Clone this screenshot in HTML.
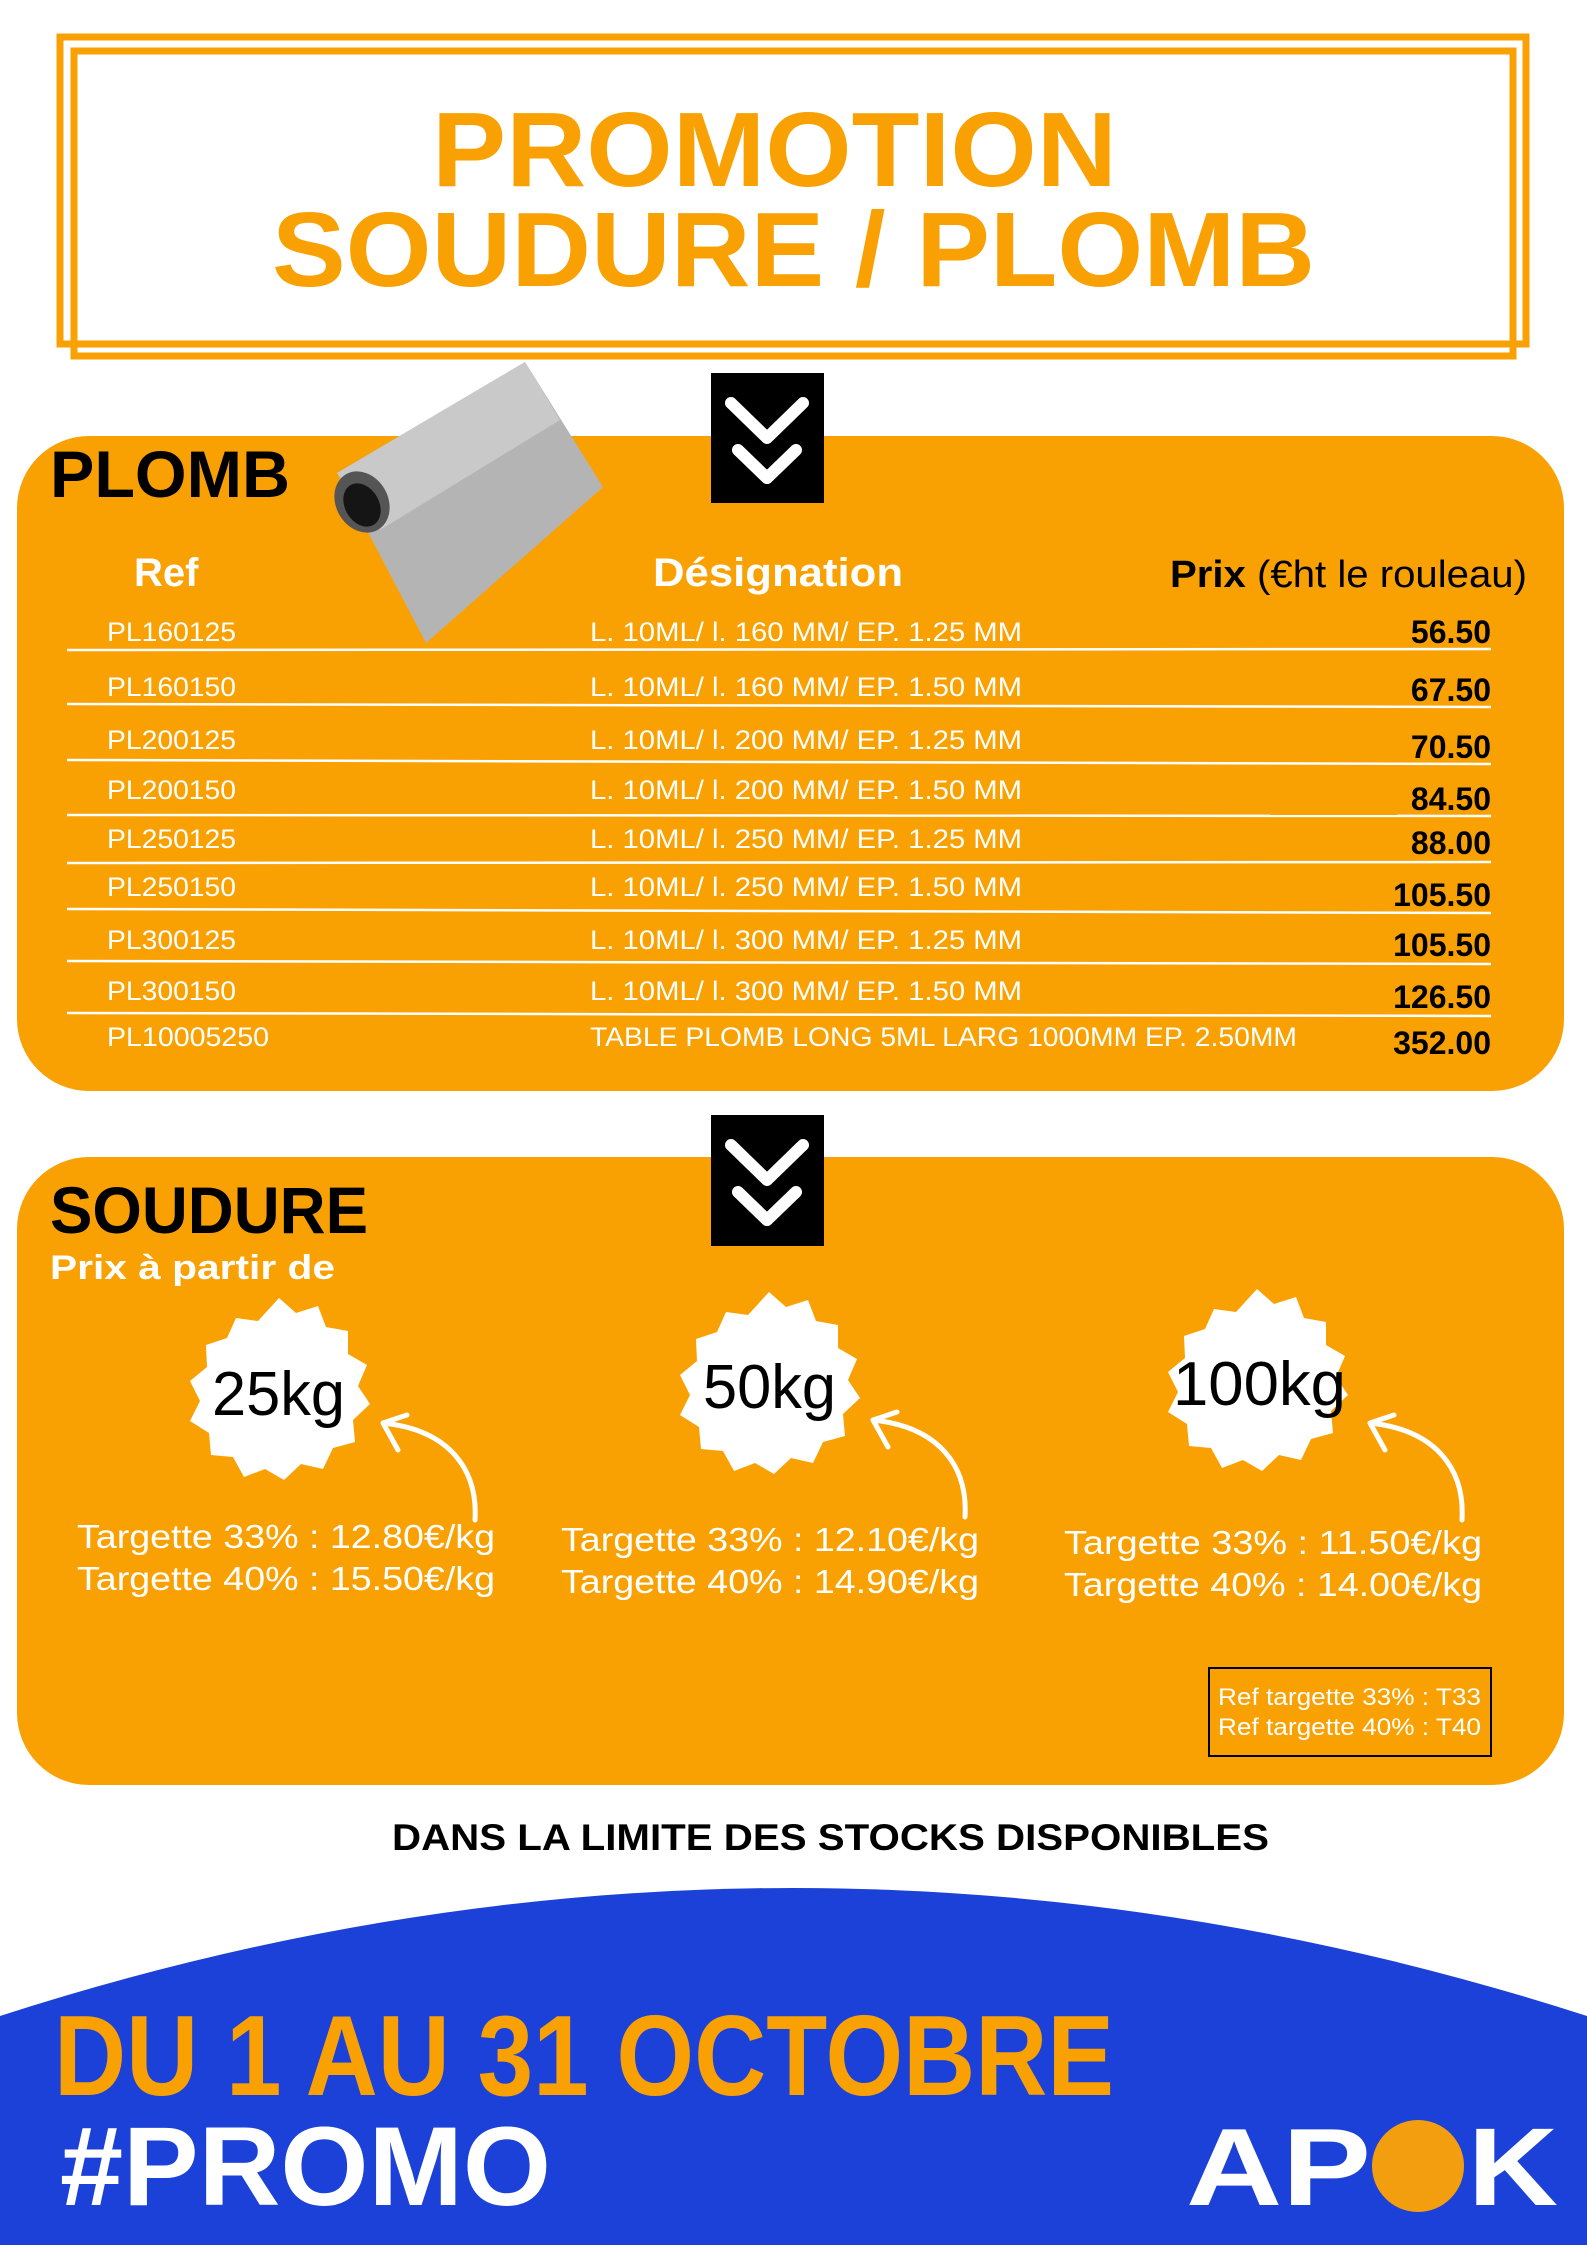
<!DOCTYPE html>
<html><head><meta charset="utf-8"><style>html,body{margin:0;padding:0;background:#fff}svg{display:block}</style></head>
<body>
<svg width="1587" height="2245" viewBox="0 0 1587 2245" xmlns="http://www.w3.org/2000/svg" font-family="Liberation Sans, sans-serif">
<rect width="1587" height="2245" fill="#fff"/>
<!-- title frames -->
<rect x="60" y="37" width="1466" height="307" fill="none" stroke="#f9a102" stroke-width="7"/>
<rect x="74" y="51" width="1439" height="305" fill="none" stroke="#f9a102" stroke-width="7"/>
<text x="432" y="186" font-size="106" font-weight="bold" fill="#f9a102" textLength="685" lengthAdjust="spacingAndGlyphs">PROMOTION</text>
<text x="272" y="286" font-size="106" font-weight="bold" fill="#f9a102" textLength="1043" lengthAdjust="spacingAndGlyphs">SOUDURE / PLOMB</text>

<!-- PLOMB panel -->
<rect x="17" y="436" width="1547" height="655" rx="72" fill="#f9a102"/>
<text x="50" y="497" font-size="66" font-weight="bold" fill="#000" textLength="240" lengthAdjust="spacingAndGlyphs">PLOMB</text>
<!-- roll -->
<polygon points="337,473 525,362 603,487 426,643" fill="#b4b4b4"/>
<polygon points="337,473 525,362 560,420 380,530" fill="#c9c9c9"/>
<ellipse cx="362" cy="502" rx="26" ry="32" fill="#555" transform="rotate(-30 362 502)"/>
<ellipse cx="362" cy="505" rx="17" ry="23" fill="#151515" transform="rotate(-30 362 505)"/>
<!-- chevron -->
<rect x="711" y="373" width="113" height="130" fill="#000"/>
<polyline points="731,403 767,438 803,403" fill="none" stroke="#fff" stroke-width="12" stroke-linecap="round" stroke-linejoin="round"/>
<polyline points="738,450 767,478 796,450" fill="none" stroke="#fff" stroke-width="12" stroke-linecap="round" stroke-linejoin="round"/>

<g font-size="40" font-weight="bold">
<text x="134" y="586" fill="#fff">Ref</text>
<text x="653" y="586" fill="#fff" textLength="250" lengthAdjust="spacingAndGlyphs">Désignation</text>
<text x="1170" y="587" fill="#000" font-size="38" textLength="357" lengthAdjust="spacingAndGlyphs">Prix <tspan font-weight="normal">(€ht le rouleau)</tspan></text>
</g>
<g stroke="#fff" stroke-width="2.5">
<line x1="67" y1="650" x2="1491" y2="649"/>
<line x1="67" y1="704" x2="1491" y2="707"/>
<line x1="67" y1="760" x2="1491" y2="764"/>
<line x1="67" y1="815" x2="1491" y2="816"/>
<line x1="67" y1="863" x2="1491" y2="862"/>
<line x1="67" y1="909" x2="1491" y2="913"/>
<line x1="67" y1="961" x2="1491" y2="964"/>
<line x1="67" y1="1013" x2="1491" y2="1016"/>
</g>
<g font-size="27" fill="#fff">
<text x="107" y="641" textLength="129" lengthAdjust="spacingAndGlyphs">PL160125</text>
<text x="107" y="696" textLength="129" lengthAdjust="spacingAndGlyphs">PL160150</text>
<text x="107" y="749" textLength="129" lengthAdjust="spacingAndGlyphs">PL200125</text>
<text x="107" y="799" textLength="129" lengthAdjust="spacingAndGlyphs">PL200150</text>
<text x="107" y="848" textLength="129" lengthAdjust="spacingAndGlyphs">PL250125</text>
<text x="107" y="896" textLength="129" lengthAdjust="spacingAndGlyphs">PL250150</text>
<text x="107" y="949" textLength="129" lengthAdjust="spacingAndGlyphs">PL300125</text>
<text x="107" y="1000" textLength="129" lengthAdjust="spacingAndGlyphs">PL300150</text>
<text x="107" y="1046" textLength="162" lengthAdjust="spacingAndGlyphs">PL10005250</text>
<text x="590" y="641" textLength="432" lengthAdjust="spacingAndGlyphs">L. 10ML/ l. 160 MM/ EP. 1.25 MM</text>
<text x="590" y="696" textLength="432" lengthAdjust="spacingAndGlyphs">L. 10ML/ l. 160 MM/ EP. 1.50 MM</text>
<text x="590" y="749" textLength="432" lengthAdjust="spacingAndGlyphs">L. 10ML/ l. 200 MM/ EP. 1.25 MM</text>
<text x="590" y="799" textLength="432" lengthAdjust="spacingAndGlyphs">L. 10ML/ l. 200 MM/ EP. 1.50 MM</text>
<text x="590" y="848" textLength="432" lengthAdjust="spacingAndGlyphs">L. 10ML/ l. 250 MM/ EP. 1.25 MM</text>
<text x="590" y="896" textLength="432" lengthAdjust="spacingAndGlyphs">L. 10ML/ l. 250 MM/ EP. 1.50 MM</text>
<text x="590" y="949" textLength="432" lengthAdjust="spacingAndGlyphs">L. 10ML/ l. 300 MM/ EP. 1.25 MM</text>
<text x="590" y="1000" textLength="432" lengthAdjust="spacingAndGlyphs">L. 10ML/ l. 300 MM/ EP. 1.50 MM</text>
<text x="590" y="1046" textLength="707" lengthAdjust="spacingAndGlyphs">TABLE PLOMB LONG 5ML LARG 1000MM EP. 2.50MM</text>
</g>
<g font-size="32" font-weight="bold" fill="#000" text-anchor="end">
<text x="1491" y="643">56.50</text>
<text x="1491" y="701">67.50</text>
<text x="1491" y="758">70.50</text>
<text x="1491" y="810">84.50</text>
<text x="1491" y="854">88.00</text>
<text x="1491" y="906">105.50</text>
<text x="1491" y="956">105.50</text>
<text x="1491" y="1008">126.50</text>
<text x="1491" y="1054">352.00</text>
</g>

<!-- SOUDURE panel -->
<rect x="17" y="1157" width="1547" height="628" rx="72" fill="#f9a102"/>
<rect x="711" y="1115" width="113" height="131" fill="#000"/>
<polyline points="731,1145 767,1180 803,1145" fill="none" stroke="#fff" stroke-width="12" stroke-linecap="round" stroke-linejoin="round"/>
<polyline points="738,1192 767,1220 796,1192" fill="none" stroke="#fff" stroke-width="12" stroke-linecap="round" stroke-linejoin="round"/>
<text x="50" y="1233" font-size="66" font-weight="bold" fill="#000" textLength="318" lengthAdjust="spacingAndGlyphs">SOUDURE</text>
<text x="50" y="1279" font-size="34" font-weight="bold" fill="#fff" textLength="285" lengthAdjust="spacingAndGlyphs">Prix à partir de</text>

<g fill="none" stroke="#fff" stroke-width="5" stroke-linecap="round" stroke-linejoin="round">
<path d="M475,1520 C478,1470 450,1430 383,1423 M407,1415 L383,1423 L398,1450"/>
<path d="M965,1517 C968,1467 940,1427 873,1420 M897,1412 L873,1420 L888,1447"/>
<path d="M1462,1520 C1465,1470 1437,1430 1370,1423 M1394,1415 L1370,1423 L1385,1450"/>
</g>
<g fill="#fff">
<polygon points="279,1298 296,1313 318,1306 326,1327 348,1331 348,1354 367,1365 358,1386 370,1404 353,1420 355,1442 333,1448 323,1469 301,1464 284,1480 265,1469 244,1477 233,1457 211,1455 209,1433 190,1421 200,1401 190,1381 207,1367 206,1345 227,1338 236,1318 258,1321"/>
<polygon transform="translate(490,-6)" points="279,1298 296,1313 318,1306 326,1327 348,1331 348,1354 367,1365 358,1386 370,1404 353,1420 355,1442 333,1448 323,1469 301,1464 284,1480 265,1469 244,1477 233,1457 211,1455 209,1433 190,1421 200,1401 190,1381 207,1367 206,1345 227,1338 236,1318 258,1321"/>
<polygon transform="translate(978,-9)" points="279,1298 296,1313 318,1306 326,1327 348,1331 348,1354 367,1365 358,1386 370,1404 353,1420 355,1442 333,1448 323,1469 301,1464 284,1480 265,1469 244,1477 233,1457 211,1455 209,1433 190,1421 200,1401 190,1381 207,1367 206,1345 227,1338 236,1318 258,1321"/>
</g>
<g font-size="62" fill="#000">
<text x="212" y="1415" textLength="133" lengthAdjust="spacingAndGlyphs">25kg</text>
<text x="703" y="1408" textLength="133" lengthAdjust="spacingAndGlyphs">50kg</text>
<text x="1173" y="1405" textLength="173" lengthAdjust="spacingAndGlyphs">100kg</text>
</g>
<g font-size="33" fill="#fff">
<text x="77" y="1548" textLength="418" lengthAdjust="spacingAndGlyphs">Targette 33% : 12.80€/kg</text>
<text x="77" y="1590" textLength="418" lengthAdjust="spacingAndGlyphs">Targette 40% : 15.50€/kg</text>
<text x="561" y="1551" textLength="418" lengthAdjust="spacingAndGlyphs">Targette 33% : 12.10€/kg</text>
<text x="561" y="1593" textLength="418" lengthAdjust="spacingAndGlyphs">Targette 40% : 14.90€/kg</text>
<text x="1064" y="1554" textLength="418" lengthAdjust="spacingAndGlyphs">Targette 33% : 11.50€/kg</text>
<text x="1064" y="1596" textLength="418" lengthAdjust="spacingAndGlyphs">Targette 40% : 14.00€/kg</text>
</g>
<rect x="1209" y="1668" width="282" height="88" fill="none" stroke="#000" stroke-width="2"/>
<g font-size="24" fill="#fff">
<text x="1218" y="1705" textLength="263" lengthAdjust="spacingAndGlyphs">Ref targette 33% :  T33</text>
<text x="1218" y="1735" textLength="263" lengthAdjust="spacingAndGlyphs">Ref targette 40% :  T40</text>
</g>

<text x="392" y="1850" font-size="37" font-weight="bold" fill="#000" textLength="877" lengthAdjust="spacingAndGlyphs">DANS LA LIMITE DES STOCKS DISPONIBLES</text>

<!-- blue footer -->
<path d="M0,2016 Q793,1760 1587,2016 L1587,2245 L0,2245 Z" fill="#1c41d8"/>
<text x="54" y="2095" font-size="114" font-weight="bold" fill="#f9a102" textLength="1060" lengthAdjust="spacingAndGlyphs">DU 1 AU 31 OCTOBRE</text>
<text x="60" y="2205" font-size="112" font-weight="bold" fill="#fff" textLength="491" lengthAdjust="spacingAndGlyphs">#PROMO</text>
<text x="1186" y="2205" font-size="110" font-weight="bold" fill="#fff" textLength="185" lengthAdjust="spacingAndGlyphs">AP</text>
<circle cx="1418" cy="2166" r="46" fill="#f39e0f"/>
<text x="1468" y="2205" font-size="110" font-weight="bold" fill="#fff" textLength="90" lengthAdjust="spacingAndGlyphs">K</text>
</svg>
</body></html>
